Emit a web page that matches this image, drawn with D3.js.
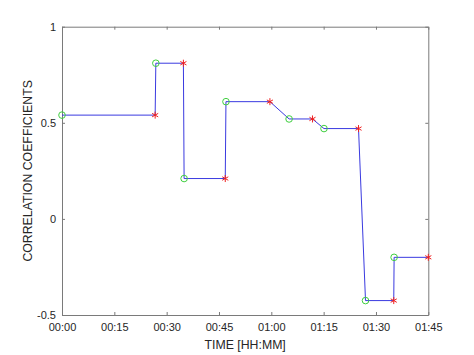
<!DOCTYPE html>
<html><head><meta charset="utf-8">
<script src="https://cdn.jsdelivr.net/npm/d3@7"></script>
<style>html,body{margin:0;padding:0;background:#fff;}</style>
</head><body><svg id="c" width="474" height="355"></svg>
<script>
// segment start / end times in minutes, and correlation value of each segment
const startMinutes = [0, 26.9, 35.0, 47.0, 65.1, 75.1, 87.0, 95.2];
const endMinutes   = [26.7, 34.8, 46.8, 59.6, 71.8, 85.0, 95.1, 105];
const corrValues   = [0.54, 0.81, 0.21, 0.61, 0.52, 0.47, -0.425, -0.20];
const xTickMinutes = [0, 15, 30, 45, 60, 75, 90, 105];
const yTicks = [-0.5, 0, 0.5, 1];

const svg = d3.select("#c");
const L = 62, R = 428.3, T = 26.7, B = 315;
const x = d3.scaleLinear().domain([0, 105]).range([L, R]);
const y = d3.scaleLinear().domain([-0.5, 1]).range([B, T]);
const fmt = m => { const h = Math.floor(m/60), mm = Math.round(m%60); return String(h).padStart(2,"0")+":"+String(mm).padStart(2,"0"); };
const axisCol = "#7a7a7a", txt = "#262626", font = "Liberation Sans, Arial, sans-serif";

// axes (box with inward ticks on all sides)
const gB = svg.append("g").attr("transform",`translate(0,${B})`).call(d3.axisBottom(x).tickValues(xTickMinutes).tickFormat(fmt).tickSizeInner(-3).tickSizeOuter(0).tickPadding(8));
const gT = svg.append("g").attr("transform",`translate(0,${T})`).call(d3.axisTop(x).tickValues(xTickMinutes).tickFormat("").tickSizeInner(-3).tickSizeOuter(0));
const gL = svg.append("g").attr("transform",`translate(${L},0)`).call(d3.axisLeft(y).tickValues(yTicks).tickFormat(d3.format("")).tickSizeInner(-3).tickSizeOuter(0).tickPadding(6));
const gR = svg.append("g").attr("transform",`translate(${R},0)`).call(d3.axisRight(y).tickValues(yTicks).tickFormat("").tickSizeInner(-3).tickSizeOuter(0));
[gB,gT,gL,gR].forEach(g=>{
  g.select(".domain").attr("stroke",axisCol).attr("stroke-width",1);
  g.selectAll(".tick line").attr("stroke",axisCol);
  g.selectAll("text").attr("fill",txt).style("font-family",font).style("font-size","11px");
});
gL.selectAll("text").text(d => d === 0 ? "0" : (d === 1 ? "1" : d));

// labels
svg.append("text").attr("x",(L+R)/2).attr("y",349).attr("text-anchor","middle")
  .attr("fill",txt).style("font-family",font).style("font-size","12.3px").text("TIME [HH:MM]");
svg.append("text").attr("transform",`translate(32,${(T+B)/2}) rotate(-90)`).attr("text-anchor","middle")
  .attr("fill",txt).style("font-family",font).style("font-size","12.3px").text("CORRELATION COEFFICIENTS");

// line through all points
const pts = [];
startMinutes.forEach((s,i)=>{ pts.push([s,corrValues[i]]); pts.push([endMinutes[i],corrValues[i]]); });
svg.append("path").datum(pts).attr("fill","none").attr("stroke","#3a3ae0").attr("stroke-width",1)
  .attr("d", d3.line().x(d=>x(d[0])).y(d=>y(d[1])));

// start markers (green circles)
svg.selectAll(".st").data(startMinutes).enter().append("circle")
  .attr("cx",(d)=>x(d)).attr("cy",(d,i)=>y(corrValues[i])).attr("r",3.3)
  .attr("fill","none").attr("stroke","#3fcf3f").attr("stroke-width",1);

// end markers (red stars)
const star = d3.symbol().type(d3.symbolAsterisk || null);
svg.selectAll(".en").data(endMinutes).enter().append("g")
  .attr("transform",(d,i)=>`translate(${x(d)},${y(corrValues[i])})`)
  .each(function(){
    const g = d3.select(this), r = 3.5;
    [[0,-r,0,r],[-r*0.87,-r*0.5,r*0.87,r*0.5],[-r*0.87,r*0.5,r*0.87,-r*0.5]].forEach(l=>
      g.append("line").attr("x1",l[0]).attr("y1",l[1]).attr("x2",l[2]).attr("y2",l[3])
        .attr("stroke","#f02020").attr("stroke-width",1));
  });
</script></body></html>
